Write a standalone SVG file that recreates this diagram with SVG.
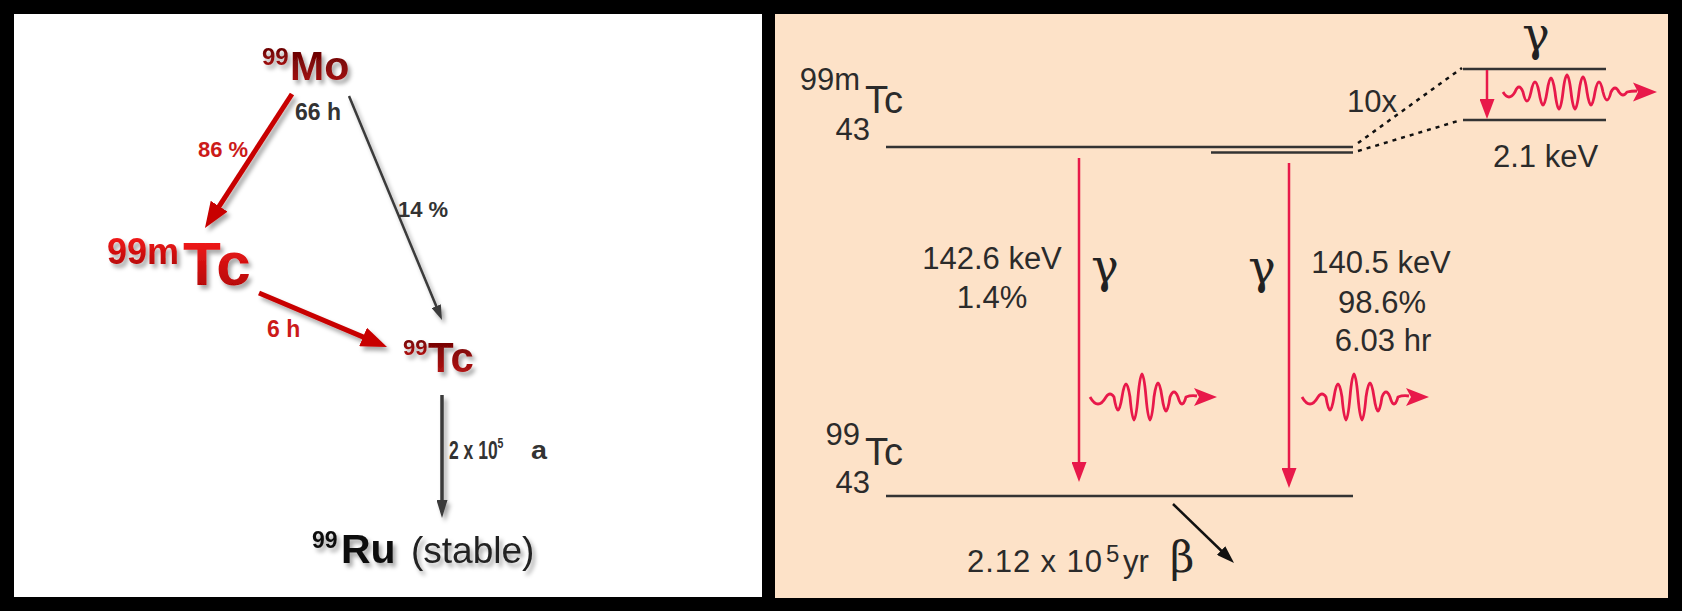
<svg xmlns="http://www.w3.org/2000/svg" xmlns:xlink="http://www.w3.org/1999/xlink" width="1682" height="611" viewBox="0 0 1682 611">
<defs>
<style>
.bold{font-family:"Liberation Sans",Arial,sans-serif;font-weight:bold}
.reg{font-family:"Liberation Sans",Arial,sans-serif}
.serif{font-family:"DejaVu Serif","Liberation Serif",serif;fill:#222}
.rt{font-family:"Liberation Sans",Arial,sans-serif;font-size:31px;fill:#2b2b2b}
.rt.big{font-size:38px}
.rt.sup{font-size:24px}
.lvl{stroke:#333;stroke-width:2.5;fill:none}
.dot{stroke:#111;stroke-width:2.5;stroke-dasharray:4 5;fill:none}
.gam{stroke:#e8194a;stroke-width:2.5;fill:none}
.wv{stroke:#e8194a;stroke-width:2.8;fill:none;stroke-linejoin:round}
.redA{stroke:#c80000;stroke-width:5;fill:none}
.grayA{stroke:#3a3a3a;stroke-width:2.5;fill:none}
.grayV{stroke:#3a3a3a;stroke-width:3.5;fill:none}
</style>
<linearGradient id="gMo" x1="0" y1="0" x2="0" y2="1"><stop offset="0" stop-color="#5a0000"/><stop offset="1" stop-color="#b01212"/></linearGradient>
<linearGradient id="gTcm" x1="0" y1="0" x2="0" y2="1"><stop offset="0" stop-color="#ff2020"/><stop offset="1" stop-color="#a80000"/></linearGradient>
<linearGradient id="gTc" x1="0" y1="0" x2="0" y2="1"><stop offset="0" stop-color="#650000"/><stop offset="1" stop-color="#c01818"/></linearGradient>
<filter id="sh" x="-20%" y="-20%" width="150%" height="160%"><feDropShadow dx="3" dy="4" stdDeviation="2" flood-color="#000" flood-opacity="0.35"/></filter>
<marker id="mRed" viewBox="0 0 26 20" markerWidth="26" markerHeight="20" refX="12" refY="10" orient="auto" markerUnits="userSpaceOnUse"><path d="M0,0 L26,10 L0,20 Z" fill="#c80000"/></marker>
<marker id="mGray" viewBox="0 0 15 10" markerWidth="15" markerHeight="10" refX="7" refY="5" orient="auto" markerUnits="userSpaceOnUse"><path d="M0,0 L15,5 L0,10 Z" fill="#3a3a3a"/></marker>
<marker id="mGrayV" viewBox="0 0 18 11" markerWidth="18" markerHeight="11" refX="10" refY="5.5" orient="auto" markerUnits="userSpaceOnUse"><path d="M0,0 L18,5.5 L0,11 Z" fill="#3a3a3a"/></marker>
<marker id="mPink" viewBox="0 0 20 15" markerWidth="20" markerHeight="15" refX="12" refY="7.5" orient="auto" markerUnits="userSpaceOnUse"><path d="M0,0 L20,7.5 L0,15 Z" fill="#e8194a"/></marker>
<marker id="mBlack" viewBox="0 0 18 12" markerWidth="18" markerHeight="12" refX="10" refY="6" orient="auto" markerUnits="userSpaceOnUse"><path d="M0,0 L18,6 L0,12 Z" fill="#111"/></marker>
<g id="wave">
<path class="wv" d="M0,0 C5.33,9.33 10.67,9.33 16,0 C18.67,-4 21.33,-4 24,0 C26.67,17.33 29.33,17.33 32,0 C34.67,-17.33 37.33,-17.33 40,0 C42.67,30.67 45.33,30.67 48,0 C50.67,-30.67 53.33,-30.67 56,0 C58.67,30.67 61.33,30.67 64,0 C66.67,-18.67 69.33,-18.67 72,0 C74.67,18.67 77.33,18.67 80,0 C82.67,-6.67 85.33,-6.67 88,0 C90.67,9.33 93.33,9.33 96,0 Q101,-2 107,-1"/>
<path d="M127,0 L104,-9 L109,0 L104,9 Z" fill="#e8194a"/>
</g>
</defs>

<rect x="0" y="0" width="1682" height="611" fill="#000"/>
<rect x="14" y="14" width="748" height="583" fill="#fff"/>
<rect x="775" y="14" width="893" height="584" fill="#fde2c8"/>

<!-- LEFT PANEL -->
<g id="left-connectors" filter="url(#sh)">
<line class="redA" x1="292" y1="94" x2="212.6" y2="216.3" marker-end="url(#mRed)"/>
<line class="redA" x1="259" y1="293" x2="374.1" y2="341.6" marker-end="url(#mRed)"/>
<line class="grayA" x1="349" y1="96" x2="438.9" y2="312.6" marker-end="url(#mGray)"/>
<line class="grayV" x1="442" y1="395" x2="442" y2="510" marker-end="url(#mGrayV)"/>
</g>
<g id="left-labels">
<text class="bold" x="295" y="120" font-size="23" fill="#333">66 h</text>
<text class="bold" x="198" y="157" font-size="22" fill="#cc1a1a">86 %</text>
<text class="bold" x="398" y="217" font-size="22" fill="#333">14 %</text>
<text class="bold" x="267" y="337" font-size="23" fill="#cc1a1a">6 h</text>
<text class="bold" transform="translate(449,459) scale(0.7,1)" font-size="25" fill="#333">2 x 10<tspan dy="-11" font-size="15">5</tspan></text>
<text class="bold" x="531" y="459" font-size="25" fill="#333" textLength="16" lengthAdjust="spacingAndGlyphs">a</text>
</g>
<g id="node-mo99" filter="url(#sh)">
<text class="bold" x="262" y="65" font-size="24" fill="url(#gMo)">99</text>
<text class="bold" x="290" y="80" font-size="41" fill="url(#gMo)">Mo</text>
</g>
<g id="node-tc99m" filter="url(#sh)">
<text class="bold" x="107" y="264" font-size="36" fill="url(#gTcm)">99m</text>
<text class="bold" x="183" y="285" font-size="62" fill="url(#gTcm)">Tc</text>
</g>
<g id="node-tc99" filter="url(#sh)">
<text class="bold" x="403" y="355" font-size="22" fill="url(#gTc)">99</text>
<text class="bold" x="428" y="372" font-size="42" fill="url(#gTc)">Tc</text>
</g>
<g id="node-ru99" filter="url(#sh)">
<text class="bold" x="312" y="548" font-size="23" fill="#111">99</text>
<text class="bold" x="341" y="563" font-size="41" fill="#111">Ru</text>
<text class="reg" x="411" y="563" font-size="37" fill="#222">(stable)</text>
</g>

<!-- RIGHT PANEL -->
<g id="level-tc99m">
<line class="lvl" x1="886" y1="147" x2="1353" y2="147"/>
<line class="lvl" x1="1211" y1="152.5" x2="1353" y2="152.5"/>
<text class="rt" x="860" y="90" text-anchor="end">99m</text>
<text class="rt big" x="865" y="113">Tc</text>
<text class="rt" x="870" y="140" text-anchor="end">43</text>
</g>
<g id="level-tc99">
<line class="lvl" x1="886" y1="496" x2="1353" y2="496"/>
<text class="rt" x="860" y="445" text-anchor="end">99</text>
<text class="rt big" x="865" y="465">Tc</text>
<text class="rt" x="870" y="493" text-anchor="end">43</text>
</g>
<g id="inset">
<line class="lvl" x1="1463" y1="69" x2="1606" y2="69"/>
<line class="lvl" x1="1463" y1="120" x2="1606" y2="120"/>
<text class="serif" x="1536" y="50" font-size="46" text-anchor="middle">γ</text>
<text class="rt" x="1493" y="167">2.1 keV</text>
<text class="rt" x="1347" y="112">10x</text>
</g>
<g id="right-connectors">
<line class="dot" x1="1358" y1="143" x2="1462" y2="68"/>
<line class="dot" x1="1358" y1="151" x2="1458" y2="121"/>
<line class="gam" x1="1079" y1="158" x2="1079" y2="474" marker-end="url(#mPink)"/>
<line class="gam" x1="1289" y1="163" x2="1289" y2="480" marker-end="url(#mPink)"/>
<line class="gam" x1="1487" y1="70" x2="1487" y2="111" marker-end="url(#mPink)"/>
<line stroke="#111" stroke-width="2.5" x1="1173" y1="504" x2="1228.3" y2="557.5" marker-end="url(#mBlack)"/>
<use xlink:href="#wave" href="#wave" transform="translate(1090,397)"/>
<use xlink:href="#wave" href="#wave" transform="translate(1302,397)"/>
<g transform="translate(1503,92)">
<path class="wv" d="M0,0 C4,6.67 8,6.67 12,0 C14.67,-6.67 17.33,-6.67 20,0 C22.67,12 25.33,12 28,0 C30.67,-13.33 33.33,-13.33 36,0 C38.67,17.33 41.33,17.33 44,0 C46.67,-18.67 49.33,-18.67 52,0 C54.67,22.67 57.33,22.67 60,0 C62.67,-22.67 65.33,-22.67 68,0 C70.67,22.67 73.33,22.67 76,0 C78.67,-20 81.33,-20 84,0 C86.67,17.33 89.33,17.33 92,0 C94.67,-13.33 97.33,-13.33 100,0 C102.67,10.67 105.33,10.67 108,0 C110.67,-5.33 113.33,-5.33 116,0 C118.67,4 121.33,4 124,0 Q128,-1 134,-1"/>
<path d="M154,0 L130,-9.5 L135,0 L130,9.5 Z" fill="#e8194a"/>
</g>
</g>
<g id="right-labels">
<text class="rt" x="992" y="269" text-anchor="middle">142.6 keV</text>
<text class="rt" x="992" y="308" text-anchor="middle">1.4%</text>
<text class="serif" x="1105" y="282" font-size="46" text-anchor="middle">γ</text>
<text class="serif" x="1262" y="283" font-size="46" text-anchor="middle">γ</text>
<text class="rt" x="1381" y="273" text-anchor="middle">140.5 keV</text>
<text class="rt" x="1382" y="313" text-anchor="middle">98.6%</text>
<text class="rt" x="1383" y="351" text-anchor="middle">6.03 hr</text>
<text class="rt" x="967" y="572" textLength="135" lengthAdjust="spacing">2.12 x 10</text>
<text class="rt sup" x="1106" y="562">5</text>
<text class="rt" x="1123" y="572">yr</text>
<text class="serif" x="1170" y="572" font-size="42">β</text>
</g>
</svg>
